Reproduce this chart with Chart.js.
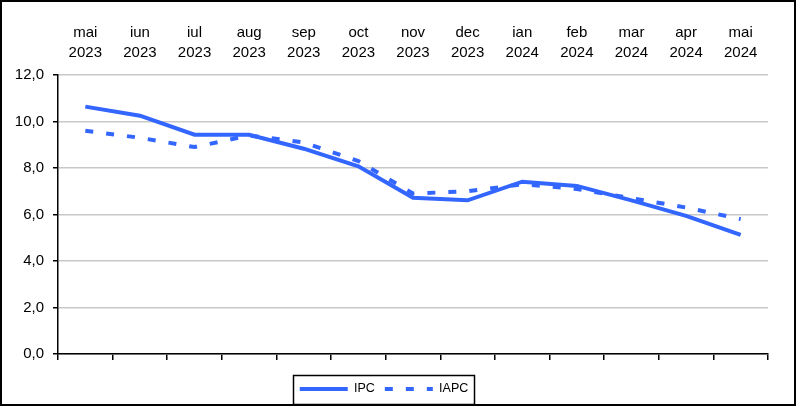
<!DOCTYPE html>
<html>
<head>
<meta charset="utf-8">
<script src="https://cdn.jsdelivr.net/npm/chart.js@4/dist/chart.umd.min.js"></script>
<style>
  html, body { margin: 0; padding: 0; background: #fff; }
  #wrap { width: 801px; height: 408px; }
</style>
</head>
<body>
<div id="wrap"><canvas id="c" width="801" height="408"></canvas></div>
<script>
const months = ['mai','iun','iul','aug','sep','oct','nov','dec','ian','feb','mar','apr','mai'];
const years = ['2023','2023','2023','2023','2023','2023','2023','2023','2024','2024','2024','2024','2024'];
const ipc = [10.64, 10.25, 9.43, 9.43, 8.83, 8.07, 6.72, 6.61, 7.41, 7.23, 6.61, 5.94, 5.12];
const iapc = [9.6, 9.3, 8.9, 9.4, 9.1, 8.3, 6.9, 7.0, 7.3, 7.1, 6.7, 6.3, 5.8];
const yTicks = [0, 2, 4, 6, 8, 10, 12];

const labels = months.map((m, i) => m + ' ' + years[i]);
const topLabels = months.map((m, i) => [m, years[i]]);
const BLUE = '#3366ff';
const DASH = [8, 13];

Chart.defaults.font.family = '"Liberation Sans", Arial, sans-serif';
Chart.defaults.color = '#000';

const framePlugin = {
  id: 'frames',
  beforeDraw(chart) {
    const ctx = chart.ctx;
    ctx.save();
    ctx.fillStyle = '#fff';
    ctx.fillRect(0, 0, chart.width, chart.height);
    ctx.restore();
  },
  afterDraw(chart) {
    const ctx = chart.ctx;
    ctx.save();
    ctx.strokeStyle = '#000';
    ctx.lineWidth = 2;
    ctx.strokeRect(1, 1, 794, 404);
    const lg = chart.legend;
    if (lg && lg.legendHitBoxes && lg.legendHitBoxes.length) {
      const hb = lg.legendHitBoxes;
      const l = hb[0].left - 7;
      const last = hb[hb.length - 1];
      const r = last.left + last.width + 5;
      const t = lg.top + 2;
      const b = lg.bottom - 2;
      ctx.lineWidth = 1.5;
      ctx.strokeRect(Math.round(l) + 0.5, Math.round(t) + 0.5, Math.round(r - l), Math.round(b - t));
    }
    ctx.restore();
  }
};

new Chart(document.getElementById('c'), {
  type: 'line',
  data: {
    labels: labels,
    datasets: [
      { label: 'IPC', data: ipc, borderColor: BLUE, backgroundColor: BLUE, borderWidth: 4,
        pointRadius: 0, tension: 0, xAxisID: 'x', yAxisID: 'y' },
      { label: 'IAPC', data: iapc, borderColor: BLUE, backgroundColor: BLUE, borderWidth: 4,
        borderDash: DASH, pointRadius: 0, tension: 0, xAxisID: 'x', yAxisID: 'y' }
    ]
  },
  options: {
    responsive: false,
    animation: false,
    layout: { padding: { left: 0, right: 33, top: 0, bottom: 2.75 } },
    plugins: {
      tooltip: { enabled: false },
      legend: {
        position: 'bottom',
        labels: {
          usePointStyle: true,
          pointStyle: 'line',
          pointStyleWidth: 48,
          padding: 10,
          color: '#000',
          font: { size: 12.5 },
          generateLabels(chart) {
            const items = Chart.defaults.plugins.legend.labels.generateLabels(chart);
            items.forEach(it => {
              const ds = chart.data.datasets[it.datasetIndex];
              it.lineDash = ds.borderDash || [];
              it.lineWidth = ds.borderWidth;
              it.strokeStyle = ds.borderColor;
              it.lineCap = 'butt';
            });
            return items;
          }
        }
      }
    },
    scales: {
      x: {
        type: 'category',
        position: 'bottom',
        offset: true,
        afterFit(s) { s.height = 18.75; },
        ticks: { display: false },
        grid: { display: true, drawOnChartArea: false, offset: true, tickLength: 6,
                color: '#000', tickColor: '#000', lineWidth: 1.5 },
        border: { display: true, color: '#000', width: 1.5 }
      },
      x2: {
        type: 'category',
        position: 'top',
        labels: topLabels,
        offset: true,
        afterFit(s) { s.height = 75; },
        ticks: { padding: 12.5, maxRotation: 0, autoSkip: false, color: '#000',
                 font: { size: 15, lineHeight: 1.3 } },
        grid: { display: false, drawTicks: false },
        border: { display: false }
      },
      y: {
        min: 0, max: 12,
        afterFit(s) { s.width = 58; },
        afterBuildTicks(s) { s.ticks = yTicks.map(v => ({ value: v })); },
        ticks: {
          padding: 9, color: '#000', font: { size: 15 },
          callback: (v) => Number(v).toFixed(1).replace('.', ',')
        },
        grid: { color: '#c8c8c8', lineWidth: 1.5, tickColor: '#000', tickLength: 5 },
        border: { display: true, color: '#000', width: 1.5 }
      }
    }
  },
  plugins: [framePlugin]
});
</script>
</body>
</html>
